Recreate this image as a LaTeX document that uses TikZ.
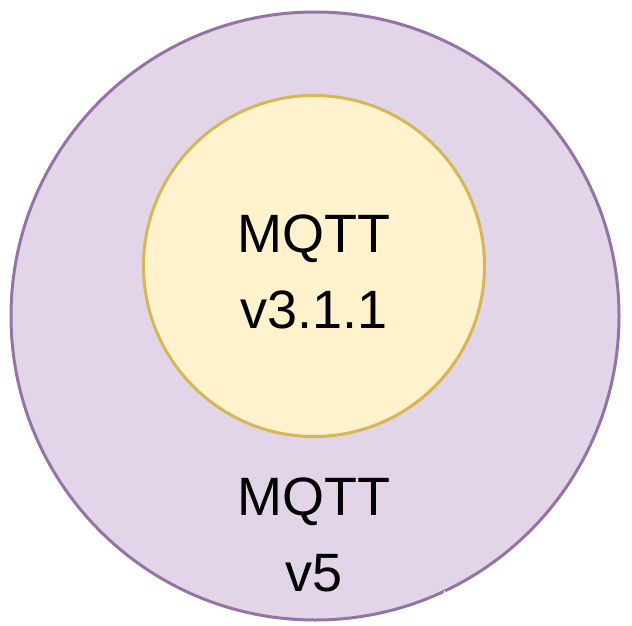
\documentclass[tikz,border=0pt]{standalone}
\usepackage{fontspec}
\setmainfont{Liberation Sans}
\newfontfamily\cjk{Noto Sans CJK SC}
\definecolor{pfill}{HTML}{E1D5E7}
\definecolor{pdraw}{HTML}{9673A6}
\definecolor{yfill}{HTML}{FFF2CC}
\definecolor{ydraw}{HTML}{D6B656}
\tikzset{lbl/.style={font=\fontsize{54}{76}\selectfont, align=center, inner sep=0pt}}
\begin{document}
\begin{tikzpicture}[x=1pt,y=-1pt]
\useasboundingbox (0,0) rectangle (632,626);
\node[circle, minimum size=608pt, fill=pfill, draw=pdraw, line width=3pt, inner sep=0pt] (outer) at (315,316) {};
\node[circle, minimum size=341pt, fill=yfill, draw=ydraw, line width=3pt, inner sep=0pt] (inner) at (314,266) {};
\node[lbl] (t1) at (314,272) {MQTT\\v3.1.1};
\node[lbl] (t2) at (314,535) {MQTT\\v5};
\node[font=\cjk\fontsize{17}{20}\selectfont, text=white, anchor=east] (wm) at (618,600) {知乎 @嵌入式系统开发};
\end{tikzpicture}
\end{document}
